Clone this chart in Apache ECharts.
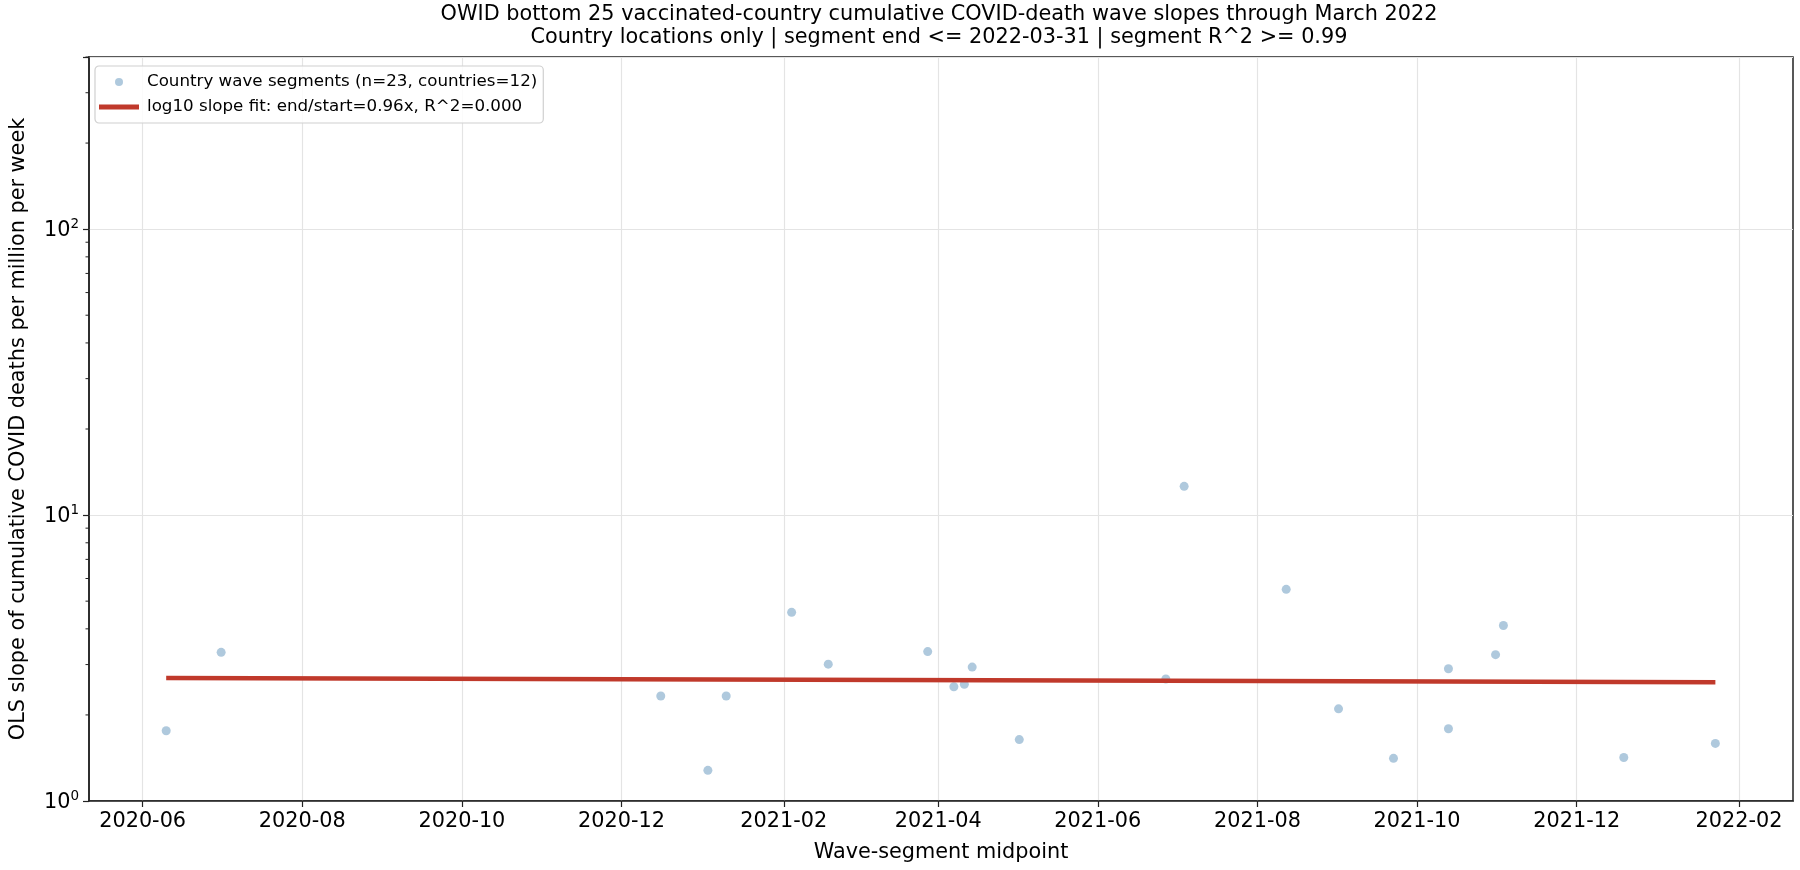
<!DOCTYPE html>
<html>
<head>
<meta charset="utf-8">
<title>OWID wave slopes</title>
<script src="https://cdn.jsdelivr.net/npm/echarts@6.0.0/dist/echarts.min.js"></script>
<style>
  html, body { margin: 0; padding: 0; background: #fff; }
  #chart { width: 1800px; height: 870px; }
</style>
</head>
<body>
<div id="chart"></div>
<script>
// segment midpoints and slopes
const pointDates = ['2020-06-10', '2020-07-01', '2020-12-16', '2021-01-03', '2021-01-10',
  '2021-02-04', '2021-02-18', '2021-03-28', '2021-04-07', '2021-04-11', '2021-04-14',
  '2021-05-02', '2021-06-27', '2021-07-04', '2021-08-12', '2021-09-01', '2021-09-22',
  '2021-10-13', '2021-10-13', '2021-10-31', '2021-11-03', '2021-12-19', '2022-01-23']
const pointValues = [1.76, 3.31, 2.33, 1.28, 2.33,
  4.57, 3.01, 3.33, 2.51, 2.56, 2.94,
  1.64, 2.67, 12.6, 5.50, 2.10, 1.41,
  2.90, 1.79, 3.25, 4.11, 1.42, 1.59]

// fitted line ends
const fitDates = ['2020-06-10', '2022-01-23']
const fitValues = [2.69, 2.60]

// axis ticks
const xTickDates = ['2020-06-01', '2020-08-01', '2020-10-01', '2020-12-01', '2021-02-01',
  '2021-04-01', '2021-06-01', '2021-08-01', '2021-10-01', '2021-12-01', '2022-02-01']
const yMinorTicks = [2, 3, 4, 5, 6, 7, 8, 9, 20, 30, 40, 50, 60, 70, 80, 90, 200, 300, 400]

const ts = d => +new Date(d + 'T00:00:00')
const xMin = +new Date('2020-05-11T12:00:00')
const xMax = +new Date('2022-02-21T16:00:00')
const yMin = 1
const yMax = 400

const FONT = 'DejaVu Sans'
const INK = '#222'
const BIG = 20.8

let myChart = echarts.init(document.getElementById('chart'), null, { renderer: 'canvas' })

const scatterData = pointDates.map((d, i) => [ts(d), pointValues[i]])
const fitData = fitDates.map((d, i) => [ts(d), fitValues[i]])
const xTicks = xTickDates.map(ts)

const scatterName = 'Country wave segments (n=23, countries=12)'
const fitName = 'log10 slope fit: end/start=0.96x, R^2=0.000'

let option = {
  animation: false,
  backgroundColor: '#fff',
  textStyle: { fontFamily: FONT },
  title: {
    text: 'OWID bottom 25 vaccinated-country cumulative COVID-death wave slopes through March 2022\nCountry locations only | segment end <= 2022-03-31 | segment R^2 >= 0.99',
    left: 939,
    top: 3,
    padding: 0,
    textAlign: 'center',
    textStyle: { fontFamily: FONT, fontSize: BIG, fontWeight: 'normal', color: '#000', lineHeight: 23 }
  },
  legend: {
    orient: 'vertical',
    left: 95,
    top: 66,
    padding: [6, 6, 6, 4],
    itemWidth: 40,
    itemHeight: 8,
    itemGap: 5,
    backgroundColor: 'rgba(255,255,255,0.85)',
    borderColor: '#d0d0d0',
    borderWidth: 1.2,
    borderRadius: 4,
    data: [
      { name: scatterName, icon: 'circle' },
      { name: fitName, icon: 'path://M0 0H40V5H0Z' }
    ],
    textStyle: { fontFamily: FONT, fontSize: 16.7, color: '#000', lineHeight: 20, padding: [0, 0, 0, 3] }
  },
  grid: {
    left: 85, right: 7, top: 57, bottom: 69,
    show: true, borderColor: INK, borderWidth: 1.5, backgroundColor: '#fff'
  },
  xAxis: {
    type: 'value',
    min: xMin,
    max: xMax,
    scale: true,
    name: 'Wave-segment midpoint',
    nameLocation: 'middle',
    nameGap: 41,
    nameTextStyle: { fontFamily: FONT, fontSize: BIG, color: '#000' },
    axisLine: { show: true, lineStyle: { color: INK, width: 1.5 } },
    axisTick: { show: true, customValues: xTicks, length: 6, lineStyle: { color: INK, width: 1.2 } },
    axisLabel: {
      customValues: xTicks,
      margin: 10,
      fontFamily: FONT, fontSize: BIG, color: '#000',
      formatter: v => echarts.time.format(v, '{yyyy}-{MM}', false)
    },
    splitLine: { show: true, lineStyle: { color: '#e4e4e4', width: 1.2 } }
  },
  yAxis: {
    type: 'log',
    logBase: 10,
    min: yMin,
    max: yMax,
    name: 'OLS slope of cumulative COVID deaths per million per week',
    nameLocation: 'middle',
    nameGap: 60,
    nameTextStyle: { fontFamily: FONT, fontSize: BIG, color: '#000' },
    axisLine: { show: true, lineStyle: { color: INK, width: 1.5 } },
    axisTick: { show: true, length: 6, lineStyle: { color: INK, width: 1.2 } },
    axisLabel: {
      margin: 10,
      formatter: v => {
        let e = Math.round(Math.log10(v))
        if (Math.abs(Math.log10(v) - e) > 1e-6) return ''
        return '{b|10}{sup|' + e + '}'
      },
      rich: {
        b: { fontFamily: FONT, fontSize: BIG, color: '#000', lineHeight: 24, padding: [4, 0, 0, 0], verticalAlign: 'bottom' },
        sup: { fontFamily: FONT, fontSize: 13.5, color: '#000', lineHeight: 20, verticalAlign: 'top' }
      }
    },
    splitLine: { show: true, lineStyle: { color: '#e4e4e4', width: 1.2 } }
  },
  series: [
    {
      name: scatterName,
      type: 'scatter',
      symbol: 'circle',
      symbolSize: 9,
      itemStyle: { color: '#abc6db', opacity: 0.95 },
      z: 3,
      data: scatterData
    },
    {
      name: fitName,
      type: 'line',
      showSymbol: false,
      symbol: 'none',
      lineStyle: { color: '#c0392b', width: 4.5 },
      itemStyle: { color: '#c0392b' },
      z: 4,
      data: fitData
    },
    {
      // minor log ticks on the left spine
      name: 'minor-ticks',
      type: 'custom',
      silent: true,
      clip: false,
      z: 5,
      renderItem: (params, api) => {
        let p = api.coord([api.value(0), api.value(1)])
        return {
          type: 'line',
          shape: { x1: p[0] - 3.5, y1: p[1], x2: p[0], y2: p[1] },
          style: { stroke: INK, lineWidth: 1 }
        }
      },
      data: yMinorTicks.map(v => [xMin, v])
    }
  ]
}

myChart.setOption(option)
</script>
</body>
</html>
